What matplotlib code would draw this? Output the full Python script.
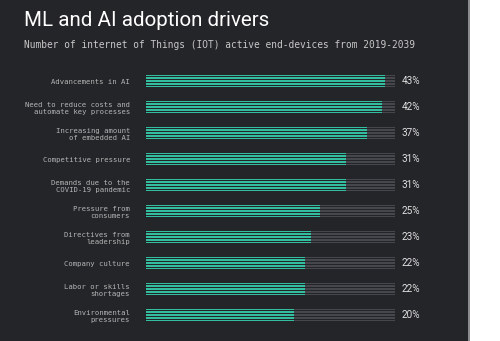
import matplotlib.pyplot as plt
from matplotlib.patches import Rectangle
import matplotlib.transforms as mtransforms

# chart data
drivers = ["Advancements in AI",
           "Need to reduce costs and\nautomate key processes",
           "Increasing amount\nof embedded AI",
           "Competitive pressure",
           "Demands due to the\nCOVID-19 pandemic",
           "Pressure from\nconsumers",
           "Directives from\nleadership",
           "Company culture",
           "Labor or skills\nshortages",
           "Environmental\npressures"]
share = [43, 42, 37, 31, 31, 25, 23, 22, 22, 20]

BG = "#242529"
TEAL = "#33bf9f"
TRACK = "#46474c"
XMIN, XMAX = 5.76, 46.8

fig = plt.figure(figsize=(5, 3.41), dpi=100, facecolor="white")
# dark panel, leaves a white strip on the right
fig.patches.append(Rectangle((0, 0), 469 / 500, 1, transform=fig.transFigure,
                             facecolor=BG, edgecolor="none", zorder=-2))
fig.patches.append(Rectangle((468 / 500, 0), 1.5 / 500, 1, transform=fig.transFigure,
                             facecolor="#8a8b8f", edgecolor="none", zorder=-1))

fig.text(0.048, 0.941, "ML and AI adoption drivers", fontsize=14.8, color="white",
         family="Roboto", va="center", ha="left")
fig.text(0.048, 0.868, "Number of internet of Things (IOT) active end-devices from 2019-2039",
         fontsize=6.85, color="#c8c8c8", family="DejaVu Sans Mono", va="center", ha="left")

ax = fig.add_axes([146 / 500, 0.038, 249 / 500, 0.7625])
ax.set_facecolor("none")
ax.set_xscale("log")

offsets = [-0.215, -0.1075, 0, 0.1075, 0.215]
for i, v in enumerate(share):
    for off in offsets:
        ax.barh(i + off, XMAX - XMIN, left=XMIN, height=0.065, color=TRACK, linewidth=0)
        ax.barh(i + off, v - XMIN, left=XMIN, height=0.065, color=TEAL, linewidth=0)

trans = mtransforms.blended_transform_factory(ax.transAxes, ax.transData)
for i, v in enumerate(share):
    ax.text(1.028, i, f"{v}%", transform=trans, fontsize=7.2, color="#e0e0e0",
            family="Roboto", va="center", ha="left")

ax.set_xlim(XMIN, XMAX)
ax.set_ylim(len(share) - 0.5, -0.5)
ax.set_yticks(range(len(drivers)))
ax.set_yticklabels(drivers, fontsize=5.2, color="#b5b5b5", family="DejaVu Sans Mono",
                   linespacing=1.2)
ax.tick_params(axis="y", length=0, pad=11.5)
ax.set_xticks([])
ax.xaxis.set_minor_locator(plt.NullLocator())
for s in ax.spines.values():
    s.set_visible(False)

fig.savefig("out.png", dpi=100, facecolor="white")
